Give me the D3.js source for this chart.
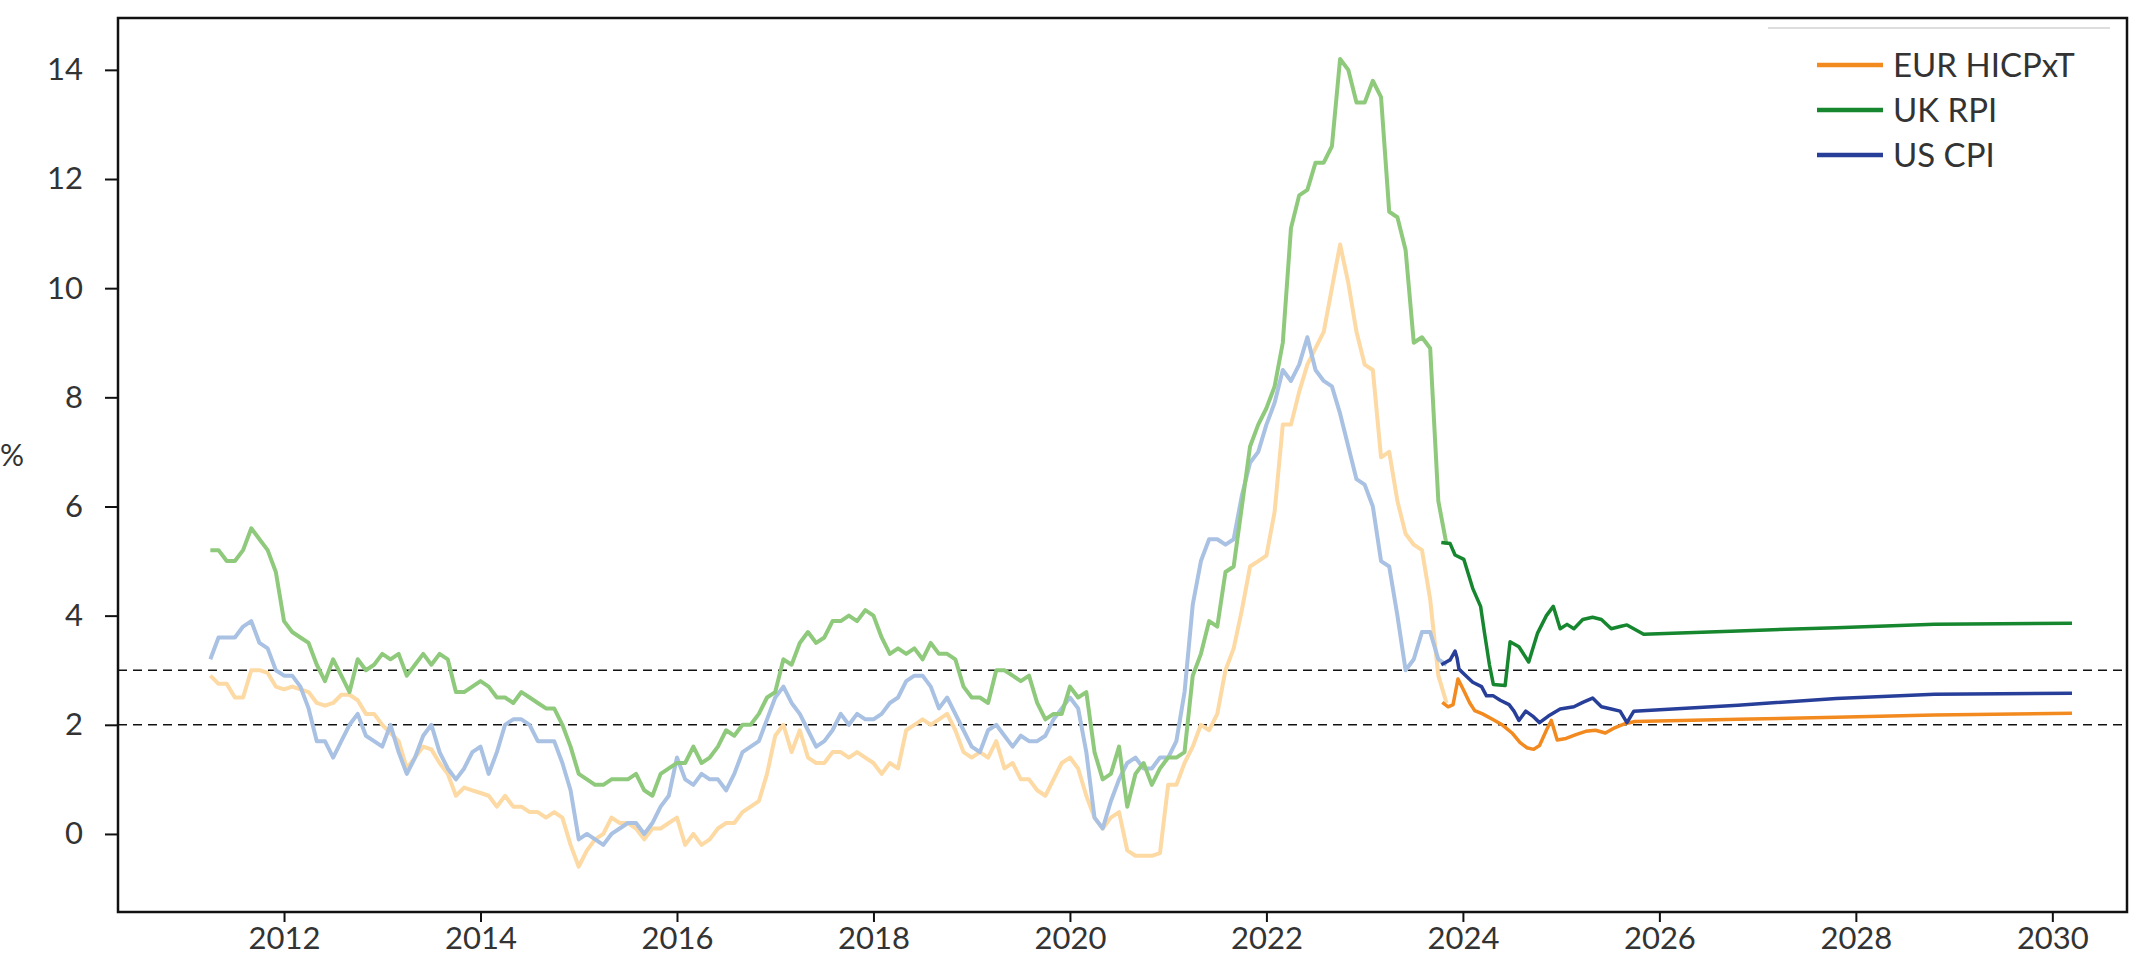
<!DOCTYPE html>
<html lang="en">
<head>
<meta charset="UTF-8">
<title>EUR HICPxT, UK RPI and US CPI</title>
<script src="https://d3js.org/d3.v7.min.js"></script>
<style>
    body { margin: 0; background: #fff; }
    text { font-family: Lato, "Open Sans", sans-serif; fill: #333; }
</style>
</head>
<body>
<div id="chart"></div>
<script>
// monthly history, first point is Apr 2011 (as decimal year), last is Nov 2023
const histStart = 2011.25;

const eurHist = [
    2.9, 2.75, 2.75, 2.5, 2.5, 3.0, 3.0, 2.95, 2.7,
    2.65, 2.7, 2.65, 2.6, 2.4, 2.35, 2.4, 2.55, 2.55, 2.45, 2.2, 2.2,
    2.0, 1.85, 1.7, 1.2, 1.4, 1.6, 1.55, 1.3, 1.1, 0.7, 0.85, 0.8,
    0.75, 0.7, 0.5, 0.7, 0.5, 0.5, 0.4, 0.4, 0.3, 0.4, 0.3, -0.2,
    -0.6, -0.3, -0.1, 0.0, 0.3, 0.2, 0.2, 0.1, -0.1, 0.1, 0.1, 0.2,
    0.3, -0.2, 0.0, -0.2, -0.1, 0.1, 0.2, 0.2, 0.4, 0.5, 0.6, 1.1,
    1.8, 2.0, 1.5, 1.9, 1.4, 1.3, 1.3, 1.5, 1.5, 1.4, 1.5, 1.4,
    1.3, 1.1, 1.3, 1.2, 1.9, 2.0, 2.1, 2.0, 2.1, 2.2, 1.9, 1.5,
    1.4, 1.5, 1.4, 1.7, 1.2, 1.3, 1.0, 1.0, 0.8, 0.7, 1.0, 1.3,
    1.4, 1.2, 0.7, 0.3, 0.1, 0.3, 0.4, -0.3, -0.4, -0.4, -0.4, -0.35,
    0.9, 0.9, 1.3, 1.6, 2.0, 1.9, 2.2, 3.0, 3.4, 4.1, 4.9, 5.0,
    5.1, 5.9, 7.5, 7.5, 8.1, 8.6, 8.9, 9.2, 10.0, 10.8, 10.1, 9.2,
    8.6, 8.5, 6.9, 7.0, 6.1, 5.5, 5.3, 5.2, 4.3, 2.9, 2.4
];

const ukHist = [
    5.2, 5.2, 5.0, 5.0, 5.2, 5.6, 5.4, 5.2, 4.8,
    3.9, 3.7, 3.6, 3.5, 3.1, 2.8, 3.2, 2.9, 2.6, 3.2, 3.0, 3.1,
    3.3, 3.2, 3.3, 2.9, 3.1, 3.3, 3.1, 3.3, 3.2, 2.6, 2.6, 2.7,
    2.8, 2.7, 2.5, 2.5, 2.4, 2.6, 2.5, 2.4, 2.3, 2.3, 2.0, 1.6,
    1.1, 1.0, 0.9, 0.9, 1.0, 1.0, 1.0, 1.1, 0.8, 0.7, 1.1, 1.2,
    1.3, 1.3, 1.6, 1.3, 1.4, 1.6, 1.9, 1.8, 2.0, 2.0, 2.2, 2.5,
    2.6, 3.2, 3.1, 3.5, 3.7, 3.5, 3.6, 3.9, 3.9, 4.0, 3.9, 4.1,
    4.0, 3.6, 3.3, 3.4, 3.3, 3.4, 3.2, 3.5, 3.3, 3.3, 3.2, 2.7,
    2.5, 2.5, 2.4, 3.0, 3.0, 2.9, 2.8, 2.9, 2.4, 2.1, 2.2, 2.2,
    2.7, 2.5, 2.6, 1.5, 1.0, 1.1, 1.6, 0.5, 1.1, 1.3, 0.9, 1.2,
    1.4, 1.4, 1.5, 2.9, 3.3, 3.9, 3.8, 4.8, 4.9, 6.0, 7.1, 7.5,
    7.8, 8.2, 9.0, 11.1, 11.7, 11.8, 12.3, 12.3, 12.6, 14.2, 14.0, 13.4,
    13.4, 13.8, 13.5, 11.4, 11.3, 10.7, 9.0, 9.1, 8.9, 6.1, 5.3
];

const usHist = [
    3.2, 3.6, 3.6, 3.6, 3.8, 3.9, 3.5, 3.4, 3.0,
    2.9, 2.9, 2.7, 2.3, 1.7, 1.7, 1.4, 1.7, 2.0, 2.2, 1.8, 1.7,
    1.6, 2.0, 1.5, 1.1, 1.4, 1.8, 2.0, 1.5, 1.2, 1.0, 1.2, 1.5,
    1.6, 1.1, 1.5, 2.0, 2.1, 2.1, 2.0, 1.7, 1.7, 1.7, 1.3, 0.8,
    -0.1, 0.0, -0.1, -0.2, 0.0, 0.1, 0.2, 0.2, 0.0, 0.2, 0.5, 0.7,
    1.4, 1.0, 0.9, 1.1, 1.0, 1.0, 0.8, 1.1, 1.5, 1.6, 1.7, 2.1,
    2.5, 2.7, 2.4, 2.2, 1.9, 1.6, 1.7, 1.9, 2.2, 2.0, 2.2, 2.1,
    2.1, 2.2, 2.4, 2.5, 2.8, 2.9, 2.9, 2.7, 2.3, 2.5, 2.2, 1.9,
    1.6, 1.5, 1.9, 2.0, 1.8, 1.6, 1.8, 1.7, 1.7, 1.8, 2.1, 2.3,
    2.5, 2.3, 1.5, 0.3, 0.1, 0.6, 1.0, 1.3, 1.4, 1.2, 1.2, 1.4,
    1.4, 1.7, 2.6, 4.2, 5.0, 5.4, 5.4, 5.3, 5.4, 6.2, 6.8, 7.0,
    7.5, 7.9, 8.5, 8.3, 8.6, 9.1, 8.5, 8.3, 8.2, 7.7, 7.1, 6.5,
    6.4, 6.0, 5.0, 4.9, 4.0, 3.0, 3.2, 3.7, 3.7, 3.2, 3.1
];

// market-implied path from late 2023 out to 2030 (decimal years / %)
const eurFcYears = [2023.79, 2023.85, 2023.90, 2023.95, 2024.00, 2024.07, 2024.12, 2024.20, 2024.30, 2024.40,
    2024.50, 2024.58, 2024.65, 2024.72, 2024.78, 2024.85, 2024.90, 2024.96, 2025.05, 2025.15,
    2025.25, 2025.35, 2025.45, 2025.55, 2025.65, 2025.75, 2026.8, 2027.8, 2028.8, 2030.2];
const eurFcValues = [2.41, 2.33, 2.37, 2.84, 2.66, 2.40, 2.26, 2.20, 2.10, 2.00,
    1.85, 1.68, 1.58, 1.55, 1.62, 1.90, 2.08, 1.72, 1.75, 1.82,
    1.88, 1.90, 1.85, 1.95, 2.02, 2.06, 2.10, 2.14, 2.18, 2.21];

const ukFcYears = [2023.78, 2023.87, 2023.92, 2024.01, 2024.10, 2024.18, 2024.22, 2024.27, 2024.31, 2024.43,
    2024.48, 2024.57, 2024.67, 2024.76, 2024.85, 2024.92, 2024.99, 2025.06, 2025.13, 2025.22,
    2025.32, 2025.41, 2025.51, 2025.60, 2025.67, 2025.84, 2026.8, 2027.8, 2028.8, 2030.2];
const ukFcValues = [5.34, 5.32, 5.11, 5.03, 4.50, 4.17, 3.68, 3.10, 2.74, 2.72,
    3.52, 3.43, 3.15, 3.68, 4.00, 4.17, 3.76, 3.84, 3.76, 3.93,
    3.97, 3.93, 3.76, 3.80, 3.83, 3.66, 3.72, 3.78, 3.84, 3.86];

const usFcYears = [2023.78, 2023.83, 2023.87, 2023.92, 2023.94, 2023.96, 2024.03, 2024.10, 2024.19, 2024.24,
    2024.31, 2024.38, 2024.47, 2024.52, 2024.57, 2024.64, 2024.71, 2024.78, 2024.87, 2024.99,
    2025.13, 2025.22, 2025.32, 2025.41, 2025.51, 2025.60, 2025.67, 2025.74, 2026.8, 2027.8, 2028.8, 2030.2];
const usFcValues = [3.10, 3.15, 3.19, 3.35, 3.23, 3.02, 2.90, 2.78, 2.70, 2.53,
    2.53, 2.45, 2.37, 2.25, 2.08, 2.25, 2.16, 2.04, 2.16, 2.29,
    2.33, 2.41, 2.49, 2.33, 2.29, 2.25, 2.04, 2.25, 2.36, 2.48, 2.56, 2.58];

const seriesNames = ["EUR HICPxT", "UK RPI", "US CPI"];
const lightColors = ["#fdd9a4", "#8fca7c", "#a9c1e2"];
const darkColors = ["#f28a1f", "#16862f", "#283f9a"];

const yTicks = [0, 2, 4, 6, 8, 10, 12, 14];
const xTicks = [2012, 2014, 2016, 2018, 2020, 2022, 2024, 2026, 2028, 2030];
const refLines = [2, 3];

const width = 2145, height = 957;
const margin = { top: 18, right: 18, bottom: 45, left: 118 };

const svg = d3.select("#chart").append("svg")
    .attr("width", width)
    .attr("height", height);

const x = d3.scaleLinear()
    .domain([2010.31, 2030.76])
    .range([margin.left, width - margin.right]);

const y = d3.scaleLinear()
    .domain([-1.43, 14.95])
    .range([height - margin.bottom, margin.top]);

const histYears = eurHist.map((d, i) => histStart + i / 12);

const line = d3.line()
    .x(d => x(d[0]))
    .y(d => y(d[1]));

// reference dashed lines at 2% and 3%
svg.selectAll(".ref")
    .data(refLines)
    .enter()
    .append("line")
    .attr("class", "ref")
    .attr("x1", margin.left)
    .attr("x2", width - margin.right)
    .attr("y1", d => y(d))
    .attr("y2", d => y(d))
    .attr("stroke", "#111")
    .attr("stroke-width", 1.6)
    .attr("stroke-dasharray", "9,6");

// history lines (faded)
const hist = [eurHist, ukHist, usHist];
const drawOrder = [0, 2, 1];
drawOrder.forEach(k => {
    svg.append("path")
        .datum(hist[k].map((v, i) => [histYears[i], v]))
        .attr("fill", "none")
        .attr("stroke", lightColors[k])
        .attr("stroke-width", 4)
        .attr("stroke-linejoin", "round")
        .attr("d", line);
});

// forward lines (solid colours)
const fc = [
    [eurFcYears, eurFcValues],
    [ukFcYears, ukFcValues],
    [usFcYears, usFcValues]
];
[1, 0, 2].forEach(k => {
    svg.append("path")
        .datum(fc[k][0].map((t, i) => [t, fc[k][1][i]]))
        .attr("fill", "none")
        .attr("stroke", darkColors[k])
        .attr("stroke-width", 3.5)
        .attr("stroke-linejoin", "round")
        .attr("d", line);
});

// axes
const yAxis = svg.append("g")
    .attr("transform", `translate(${margin.left},0)`)
    .call(d3.axisLeft(y).tickValues(yTicks).tickSize(13).tickPadding(22));

const xAxis = svg.append("g")
    .attr("transform", `translate(0,${height - margin.bottom})`)
    .call(d3.axisBottom(x).tickValues(xTicks).tickFormat(d3.format("d")).tickSize(10).tickPadding(5));

[yAxis, xAxis].forEach(g => {
    g.select(".domain").remove();
    g.selectAll(".tick line").attr("stroke", "#111").attr("stroke-width", 2);
    g.selectAll(".tick text").style("font-size", "31px").attr("fill", "#333");
});

// frame
svg.append("rect")
    .attr("x", margin.left)
    .attr("y", margin.top)
    .attr("width", width - margin.right - margin.left)
    .attr("height", height - margin.bottom - margin.top)
    .attr("fill", "none")
    .attr("stroke", "#111")
    .attr("stroke-width", 2.5);

// axis unit
svg.append("text")
    .attr("x", 0)
    .attr("y", 455)
    .attr("dy", "0.35em")
    .style("font-size", "30px")
    .text("%");

// legend
const legend = svg.append("g")
    .attr("transform", "translate(1817,65)");

legend.append("line")
    .attr("x1", -49)
    .attr("x2", 293)
    .attr("y1", -37)
    .attr("y2", -37)
    .attr("stroke", "#ddd")
    .attr("stroke-width", 2);

const item = legend.selectAll(".legend")
    .data(seriesNames)
    .enter()
    .append("g")
    .attr("class", "legend")
    .attr("transform", (d, i) => `translate(0,${i * 45})`);

item.append("line")
    .attr("x1", 0)
    .attr("x2", 66)
    .attr("stroke", (d, i) => darkColors[i])
    .attr("stroke-width", 4.5);

item.append("text")
    .attr("x", 76)
    .attr("dy", "0.35em")
    .style("font-size", "33px")
    .text(d => d);
</script>
</body>
</html>
